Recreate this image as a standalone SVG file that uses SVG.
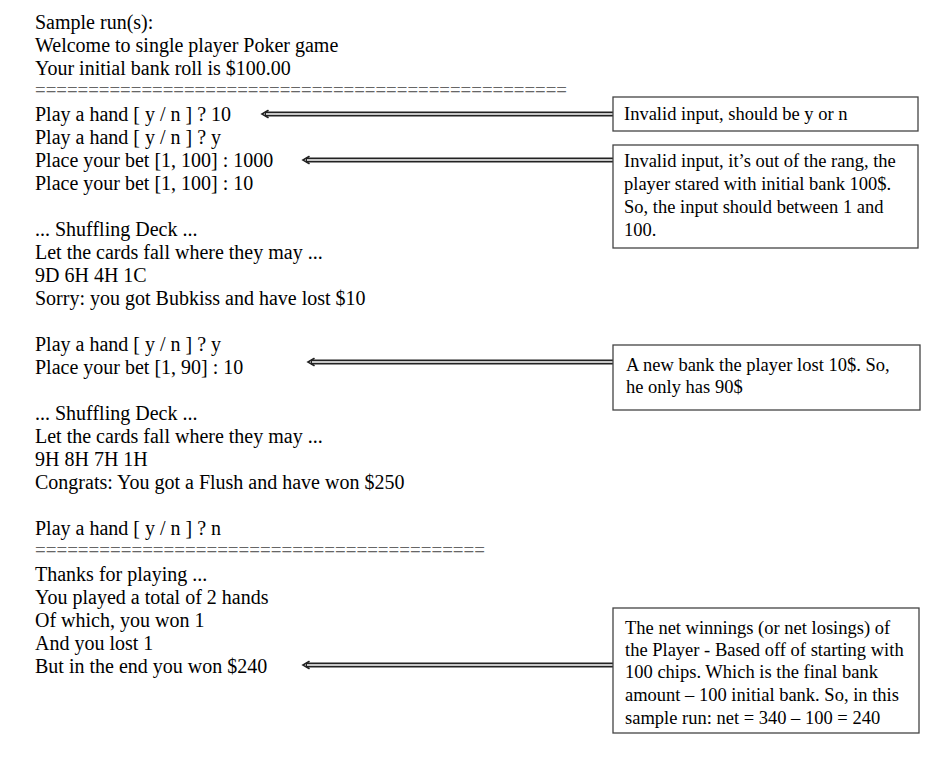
<svg xmlns="http://www.w3.org/2000/svg" width="929" height="763" viewBox="0 0 929 763">
<style>
.t{font-family:"Liberation Serif","Times New Roman",serif;font-size:20px;fill:#000}
.b{font-family:"Liberation Serif","Times New Roman",serif;font-size:18.5px;fill:#000}
.eq{font-family:"Liberation Serif","Times New Roman",serif;font-size:20px;fill:#666}
.box{fill:#fff;stroke:#444;stroke-width:1.3}
.lo{stroke:#222;stroke-width:5;fill:none}
.li{stroke:#fff;stroke-width:1.6;fill:none}
.ah{stroke:#222;stroke-width:1.6;fill:none;stroke-linecap:round}
</style>
<rect width="929" height="763" fill="#fff"/>
<g id="console">
<text class="t" x="35" y="29">Sample run(s):</text>
<text class="t" x="35" y="52">Welcome to single player Poker game</text>
<text class="t" x="35" y="75">Your initial bank roll is $100.00</text>
<text class="eq" x="35" y="97" textLength="532" lengthAdjust="spacingAndGlyphs">==================================================</text>
<text class="t" x="35" y="121">Play a hand [ y / n ] ? 10</text>
<text class="t" x="35" y="144">Play a hand [ y / n ] ? y</text>
<text class="t" x="35" y="167">Place your bet [1, 100] : 1000</text>
<text class="t" x="35" y="190">Place your bet [1, 100] : 10</text>
<text class="t" x="35" y="236">... Shuffling Deck ...</text>
<text class="t" x="35" y="259">Let the cards fall where they may ...</text>
<text class="t" x="35" y="282">9D 6H 4H 1C</text>
<text class="t" x="35" y="305">Sorry: you got Bubkiss and have lost $10</text>
<text class="t" x="35" y="351">Play a hand [ y / n ] ? y</text>
<text class="t" x="35" y="374">Place your bet [1, 90] : 10</text>
<text class="t" x="35" y="420">... Shuffling Deck ...</text>
<text class="t" x="35" y="443">Let the cards fall where they may ...</text>
<text class="t" x="35" y="466">9H 8H 7H 1H</text>
<text class="t" x="35" y="489">Congrats: You got a Flush and have won $250</text>
<text class="t" x="35" y="535">Play a hand [ y / n ] ? n</text>
<text class="eq" x="35" y="557" textLength="450" lengthAdjust="spacingAndGlyphs">==========================================</text>
<text class="t" x="35" y="581">Thanks for playing ...</text>
<text class="t" x="35" y="604">You played a total of 2 hands</text>
<text class="t" x="35" y="627">Of which, you won 1</text>
<text class="t" x="35" y="650">And you lost 1</text>
<text class="t" x="35" y="673">But in the end you won $240</text>
</g>
<g id="connectors">
<path class="lo" d="M613 114H265"/><path class="li" d="M613 114H266"/><path class="ah" d="M268 110.5L262 114L268 117.5"/>
<path class="lo" d="M613 160H306"/><path class="li" d="M613 160H307"/><path class="ah" d="M309 156.5L303 160L309 163.5"/>
<path class="lo" d="M613 362H311"/><path class="li" d="M613 362H312"/><path class="ah" d="M314 358.5L308 362L314 365.5"/>
<path class="lo" d="M613 665H306"/><path class="li" d="M613 665H307"/><path class="ah" d="M309 661.5L303 665L309 668.5"/>
</g>
<g id="note1">
<rect class="box" x="613" y="97" width="305" height="34"/>
<text class="b" x="624" y="120">Invalid input, should be y or n</text>
</g>
<g id="note2">
<rect class="box" x="613" y="145" width="305" height="103"/>
<text class="b" x="624" y="167">Invalid input, it’s out of the rang, the</text>
<text class="b" x="624" y="190">player stared with initial bank 100$.</text>
<text class="b" x="624" y="213">So, the input should between 1 and</text>
<text class="b" x="624" y="236">100.</text>
</g>
<g id="note3">
<rect class="box" x="613" y="345" width="307" height="65"/>
<text class="b" x="626" y="371">A new bank the player lost 10$. So,</text>
<text class="b" x="626" y="393">he only has 90$</text>
</g>
<g id="note4">
<rect class="box" x="613" y="608" width="306" height="125"/>
<text class="b" x="625" y="634">The net winnings (or net losings) of</text>
<text class="b" x="625" y="656">the Player - Based off of starting with</text>
<text class="b" x="625" y="678">100 chips. Which is the final bank</text>
<text class="b" x="625" y="701">amount – 100 initial bank. So, in this</text>
<text class="b" x="625" y="724">sample run: net = 340 – 100 = 240</text>
</g>
</svg>
